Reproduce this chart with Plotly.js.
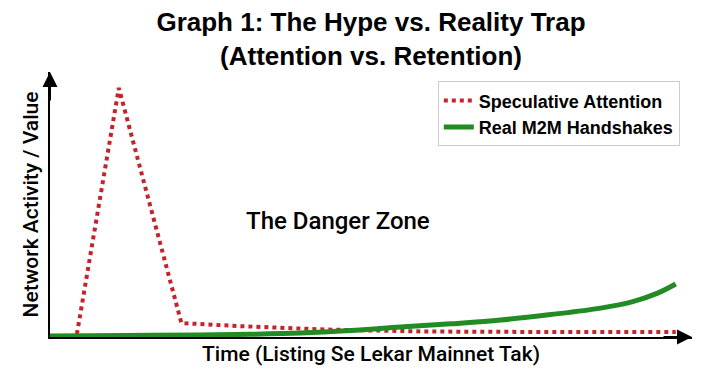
<!DOCTYPE html>
<html>
<head>
<meta charset="utf-8">
<script src="https://cdn.plot.ly/plotly-3.0.1.min.js"></script>
<style>html,body{margin:0;padding:0;background:#fff;}#chart{width:722px;height:386px;}</style>
</head>
<body>
<div id="chart"></div>
<script>
// Time axis (arbitrary units) and values
const hypeTime   = [0.43, 1.1, 2.1, 3.0, 4.4, 6.0, 8.0, 10.0];
const hypeValue  = [1.2, 100, 5.6, 4.4, 3.0, 2.2, 2.0, 2.0];
const realTime   = [0, 1.2, 2.4, 3.2, 4.0, 4.8, 5.6, 6.4, 7.2, 8.0, 8.8, 9.3, 9.7, 10.0];
const realValue  = [0.4, 0.6, 0.8, 1.1, 1.6, 2.6, 4.0, 5.3, 6.8, 9.0, 11.6, 14.1, 17.5, 21.3];
const seriesNames = ["Speculative Attention", "Real M2M Handshakes"];
const titleText = "Graph 1: The Hype vs. Reality Trap<br>(Attention vs. Retention)";
const xTitle = "Time (Listing Se Lekar Mainnet Tak)";
const yTitle = "Network Activity / Value";
const zoneLabel = "The Danger Zone";

const traces = [
  {x: hypeTime, y: hypeValue, name: seriesNames[0], mode: "lines",
   line: {color: "#c4232a", width: 4, dash: "dot"}},
  {x: realTime, y: realValue, name: seriesNames[1], mode: "lines",
   line: {color: "#238b23", width: 5, shape: "spline"}}
];

const layout = {
  width: 722, height: 386,
  margin: {l: 50, r: 30, t: 72, b: 49},
  paper_bgcolor: "#fff", plot_bgcolor: "#fff",
  title: {text: titleText, x: 0.5, xref: "paper", yref: "container", y: 0.92, yanchor: "middle",
          font: {family: "Liberation Sans, Arial, sans-serif", size: 26, color: "#000", weight: "bold"}},
  xaxis: {range: [0, 10.26], showgrid: false, zeroline: false, showticklabels: false, ticks: "",
          showline: true, linecolor: "#000", linewidth: 2,
          title: {text: xTitle, standoff: 8, font: {family: "Roboto, sans-serif", size: 21, color: "#000", weight: 500}}},
  yaxis: {range: [0, 106.4], showgrid: false, zeroline: false, showticklabels: false, ticks: "",
          showline: true, linecolor: "#000", linewidth: 2,
          title: {text: yTitle, standoff: 4, font: {family: "Roboto, sans-serif", size: 21, color: "#000", weight: 500}}},
  legend: {x: 0.981, y: 0.965, xanchor: "right", yanchor: "top",
           bgcolor: "#fff", bordercolor: "#cccccc", borderwidth: 1,
           font: {family: "Liberation Sans, Arial, sans-serif", size: 18, color: "#000", weight: "bold"},
           tracegroupgap: 0},
  showlegend: true,
  annotations: [
    {x: 4.6, y: 46.6, xref: "x", yref: "y", text: zoneLabel, showarrow: false,
     font: {family: "Roboto, sans-serif", size: 24, color: "#000", weight: 500}},
    {x: 1, y: 0, xref: "paper", yref: "paper", ax: -30, ay: 0, axref: "pixel", ayref: "pixel",
     text: "", showarrow: true, arrowhead: 2, arrowsize: 1.5, arrowwidth: 2, arrowcolor: "#000"},
    {x: 0, y: 1, xref: "paper", yref: "paper", ax: 0, ay: 30, axref: "pixel", ayref: "pixel",
     text: "", showarrow: true, arrowhead: 2, arrowsize: 1.5, arrowwidth: 2, arrowcolor: "#000"}
  ]
};

Plotly.newPlot("chart", traces, layout, {displayModeBar: false, staticPlot: true});
</script>
</body>
</html>
